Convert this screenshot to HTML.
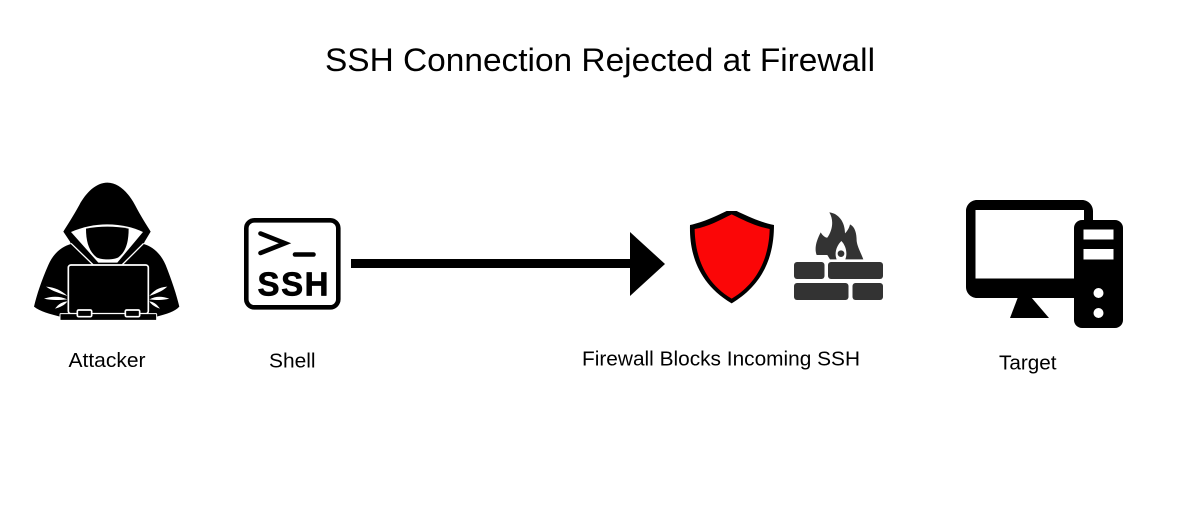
<!DOCTYPE html>
<html><head><meta charset="utf-8"><style>
html,body{margin:0;padding:0;background:#fff;width:1200px;height:528px;overflow:hidden}
svg{display:block}
text{font-family:"Liberation Sans",Arial,sans-serif;fill:#000}
</style></head><body>
<svg width="1200" height="528" viewBox="0 0 1200 528" xmlns="http://www.w3.org/2000/svg">
<rect width="1200" height="528" fill="#fff"/>
<text x="325" y="71" font-size="32.5" textLength="550" lengthAdjust="spacingAndGlyphs">SSH Connection Rejected at Firewall</text>
<text x="68.5" y="367" font-size="20" textLength="77" lengthAdjust="spacingAndGlyphs">Attacker</text>
<text x="269" y="367.5" font-size="20" textLength="46.5" lengthAdjust="spacingAndGlyphs">Shell</text>
<text x="582" y="365.5" font-size="20" textLength="278" lengthAdjust="spacingAndGlyphs">Firewall Blocks Incoming SSH</text>
<text x="999" y="369.5" font-size="20" textLength="57.5" lengthAdjust="spacingAndGlyphs">Target</text>

<!-- attacker -->
<g transform="translate(20 170) scale(.3333)">
<path d="M262 38C228 38 198 68 178 105C160 138 142 165 130 185L150 215L153 222C125 230 100 250 85 285C65 330 50 375 42 410C60 425 90 432 120 440L410 440C440 432 465 425 478 410C470 375 455 330 437 285C422 250 398 230 371 222L374 215L392 185C380 165 362 138 345 105C325 68 296 38 262 38Z" fill="#000"/>
<path d="M153 220L222 287M371 220L304 287" stroke="#fff" stroke-width="4" fill="none"/>
<path d="M153 186C190 170 225 163 261 163C300 163 335 170 369 186L292 278L235 278Z" fill="#fff"/>
<path d="M198 176C240 168 285 168 326 176C326 215 318 245 295 262C280 270 245 270 230 262C207 245 198 215 198 176Z" fill="#000"/>
<rect x="145" y="285" width="240" height="146" rx="8" fill="#000" stroke="#fff" stroke-width="5"/>
<rect x="120" y="431" width="290" height="20" rx="2" fill="#000" stroke="#fff" stroke-width="3"/>
<rect x="172" y="420" width="43" height="20" rx="4" fill="#000" stroke="#fff" stroke-width="5"/>
<rect x="316" y="420" width="43" height="20" rx="4" fill="#000" stroke="#fff" stroke-width="5"/>
<path d="M78 350C105 352 125 362 142 378C120 370 100 365 78 350ZM72 386C95 378 120 378 142 388C120 390 95 392 72 386ZM105 416C115 402 128 395 142 394C135 405 120 412 105 416Z" fill="#fff"/>
<path d="M442 350C415 352 402 362 388 378C410 370 425 365 442 350ZM448 386C425 378 408 378 388 388C408 390 425 392 448 386ZM420 416C410 402 400 395 388 394C395 405 408 412 420 416Z" fill="#fff"/>
</g>

<!-- SSH box -->
<rect x="246.300" y="220.300" width="92" height="87" rx="8" fill="#fff" stroke="#000" stroke-width="4.600"/>
<path d="M260.500 233.500L285 243.300L260.500 253" fill="none" stroke="#000" stroke-width="4.600" stroke-linecap="round" stroke-linejoin="miter"/>
<path d="M295 254.500H313.500" stroke="#000" stroke-width="4.600" stroke-linecap="round"/>
<text x="257.500" y="295.500" font-size="33" font-weight="bold" textLength="71" lengthAdjust="spacing" stroke="#000" stroke-width=".7" stroke-linejoin="round">SSH</text>

<!-- arrow -->
<rect x="351" y="259" width="282" height="9" fill="#000"/>
<path d="M630 232L665 264L630 296Z" fill="#000"/>

<!-- shield -->
<g transform="translate(680 205) scale(.3333)">
<path d="M140 18H170C195 30 240 52 282 60C282 130 265 230 155 295C45 230 28 130 30 60C70 52 115 30 140 18Z" fill="#000"/>
<path d="M155 28C190 45 230 65 269 72C268 130 250 225 155 281C60 225 45 130 44 72C85 65 120 45 155 28Z" fill="#fb0607"/>
</g>

<!-- firewall -->
<g transform="translate(810 205) scale(.3333)" fill="#333">
<path d="M20 150C12 130 20 105 32 82C38 92 46 98 52 98C68 75 72 45 58 22C85 25 105 50 105 85C112 78 118 68 120 58C135 65 140 85 140 108C142 125 152 142 160 163L106 163C113 145 108 122 94 108C80 122 72 145 80 163L60 163L52 150Z"/>
<circle cx="93" cy="146" r="10"/>
</g>
<g fill="#333">
<rect x="794" y="262" width="30.500" height="17" rx="3"/>
<rect x="828" y="262" width="55" height="17" rx="3"/>
<rect x="794" y="283" width="54.500" height="17" rx="3"/>
<rect x="852.500" y="283" width="30.500" height="17" rx="3"/>
</g>

<!-- target -->
<path d="M977 200H1082C1088 200 1093 205 1093 211V230H1084V210H975.500V278.500H1080V298H977C971 298 966 293 966 287V211C966 205 971 200 977 200Z" fill="#000"/>
<path d="M1018 297H1031L1049 318H1010Z" fill="#000"/>
<rect x="1074" y="220" width="49" height="108" rx="8" fill="#000"/>
<rect x="1083.500" y="229.500" width="30" height="10" fill="#fff"/>
<rect x="1083.500" y="249" width="30" height="10.500" fill="#fff"/>
<circle cx="1098.500" cy="293" r="5" fill="#fff"/>
<circle cx="1098.500" cy="313" r="5" fill="#fff"/>
</svg>
</body></html>
